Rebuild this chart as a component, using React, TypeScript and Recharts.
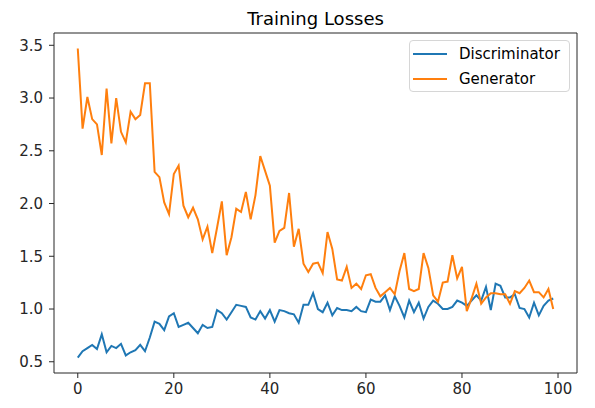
import { LineChart, Line, XAxis, YAxis, Legend, ReferenceLine } from "recharts";

const discriminator = [
  0.54, 0.6, 0.63, 0.66, 0.62, 0.76, 0.59, 0.65, 0.63, 0.67,
  0.56, 0.59, 0.61, 0.66, 0.6, 0.73, 0.88, 0.86, 0.8, 0.93,
  0.96, 0.83, 0.85, 0.87, 0.82, 0.77, 0.85, 0.82, 0.83, 0.99,
  0.96, 0.9, 0.97, 1.04, 1.03, 1.02, 0.92, 0.9, 0.98, 0.91,
  0.99, 0.88, 0.99, 0.98, 0.96, 0.95, 0.87, 1.04, 1.04, 1.15,
  1.0, 0.97, 1.06, 0.94, 1.01, 0.99, 0.99, 0.98, 1.02, 0.98,
  0.97, 1.09, 1.07, 1.07, 1.13, 0.99, 1.12, 1.03, 0.92, 1.08,
  0.97, 1.06, 0.91, 1.02, 1.08, 1.05, 1.0, 1.0, 1.02, 1.08,
  1.06, 1.03, 1.08, 1.13, 1.08, 1.21, 0.99, 1.24, 1.22, 1.11,
  1.11, 1.14, 1.01, 1.0, 0.92, 1.06, 0.94, 1.03, 1.08, 1.1,
];

const generator = [
  3.47, 2.71, 3.01, 2.8, 2.75, 2.46, 3.09, 2.57, 3.0, 2.68,
  2.58, 2.87, 2.8, 2.84, 3.14, 3.14, 2.3, 2.25, 2.01, 1.9,
  2.28, 2.36, 1.98, 1.87, 1.96, 1.85, 1.66, 1.78, 1.53, 1.77,
  2.02, 1.51, 1.68, 1.95, 1.92, 2.11, 1.85, 2.08, 2.45, 2.31,
  2.17, 1.63, 1.74, 1.77, 2.1, 1.59, 1.76, 1.43, 1.35, 1.43,
  1.44, 1.34, 1.73, 1.57, 1.28, 1.27, 1.4, 1.2, 1.24, 1.19,
  1.32, 1.33, 1.2, 1.12, 1.16, 1.2, 1.14, 1.36, 1.53, 1.19,
  1.17, 1.19, 1.53, 1.39, 1.13, 1.07, 1.25, 1.26, 1.51, 1.29,
  1.4, 0.98, 1.1, 1.24, 1.05, 1.11, 1.15, 1.15, 1.14, 1.14,
  1.05, 1.17, 1.15, 1.2, 1.27, 1.16, 1.16, 1.11, 1.19, 1.0,
];

const xTicks = [0, 20, 40, 60, 80, 100];
const yTicks = [0.5, 1.0, 1.5, 2.0, 2.5, 3.0, 3.5];

const data = discriminator.map((d, i) => ({
  epoch: i,
  Discriminator: d,
  Generator: generator[i],
}));

const font = "DejaVu Sans";
const axisColor = "#262626";
const xDomain = [-4.95, 103.95];
const yDomain = [0.3935, 3.6165];

function LegendBox({ payload }: any) {
  return (
    <div
      style={{
        width: 159,
        height: 50,
        border: "1px solid #d6d6d6",
        borderRadius: 4,
        background: "rgba(255,255,255,0.8)",
        fontFamily: font,
        fontSize: 15,
        color: "#000",
      }}
    >
      {(payload || []).map((p: any) => (
        <div key={p.value} style={{ display: "flex", alignItems: "center", height: 25 }}>
          <div style={{ marginLeft: 3, width: 34, height: 2, background: p.color }} />
          <span style={{ marginLeft: 12 }}>{p.value}</span>
        </div>
      ))}
    </div>
  );
}

export default function App() {
  return (
    <div style={{ position: "absolute", left: 0, top: 0, width: 595, height: 408, background: "#fff" }}>
      <div
        style={{
          position: "absolute",
          left: 54,
          top: 10,
          width: 523,
          textAlign: "center",
          fontFamily: font,
          fontSize: 18,
          lineHeight: "18px",
          color: "#000",
        }}
      >
        Training Losses
      </div>
      <LineChart width={595} height={408} data={data} margin={{ top: 33, right: 18, left: 0, bottom: 0 }}>
        <XAxis
          dataKey="epoch"
          type="number"
          domain={xDomain}
          ticks={xTicks}
          allowDataOverflow
          height={35}
          tickSize={5}
          tickMargin={5}
          axisLine={{ stroke: axisColor }}
          tickLine={{ stroke: axisColor }}
          tick={{ fontSize: 15, fontFamily: font, fill: axisColor }}
        />
        <YAxis
          type="number"
          domain={yDomain}
          ticks={yTicks}
          allowDataOverflow
          width={54}
          tickSize={5}
          tickMargin={6}
          tickFormatter={(v: number) => v.toFixed(1)}
          axisLine={{ stroke: axisColor }}
          tickLine={{ stroke: axisColor }}
          tick={{ fontSize: 15, fontFamily: font, fill: axisColor }}
        />
        {/* top and right spines of the matplotlib box */}
        <ReferenceLine y={yDomain[1]} stroke={axisColor} ifOverflow="visible" />
        <ReferenceLine x={xDomain[1]} stroke={axisColor} ifOverflow="visible" />
        <Legend
          layout="vertical"
          align="center"
          verticalAlign="middle"
          content={(props: any) => <LegendBox {...props} />}
          wrapperStyle={{ left: 409, top: 40, width: 161, height: 52 }}
        />
        <Line
          dataKey="Discriminator"
          stroke="#1f77b4"
          strokeWidth={2}
          dot={false}
          type="linear"
          isAnimationActive={false}
        />
        <Line
          dataKey="Generator"
          stroke="#ff7f0e"
          strokeWidth={2}
          dot={false}
          type="linear"
          isAnimationActive={false}
        />
      </LineChart>
    </div>
  );
}
